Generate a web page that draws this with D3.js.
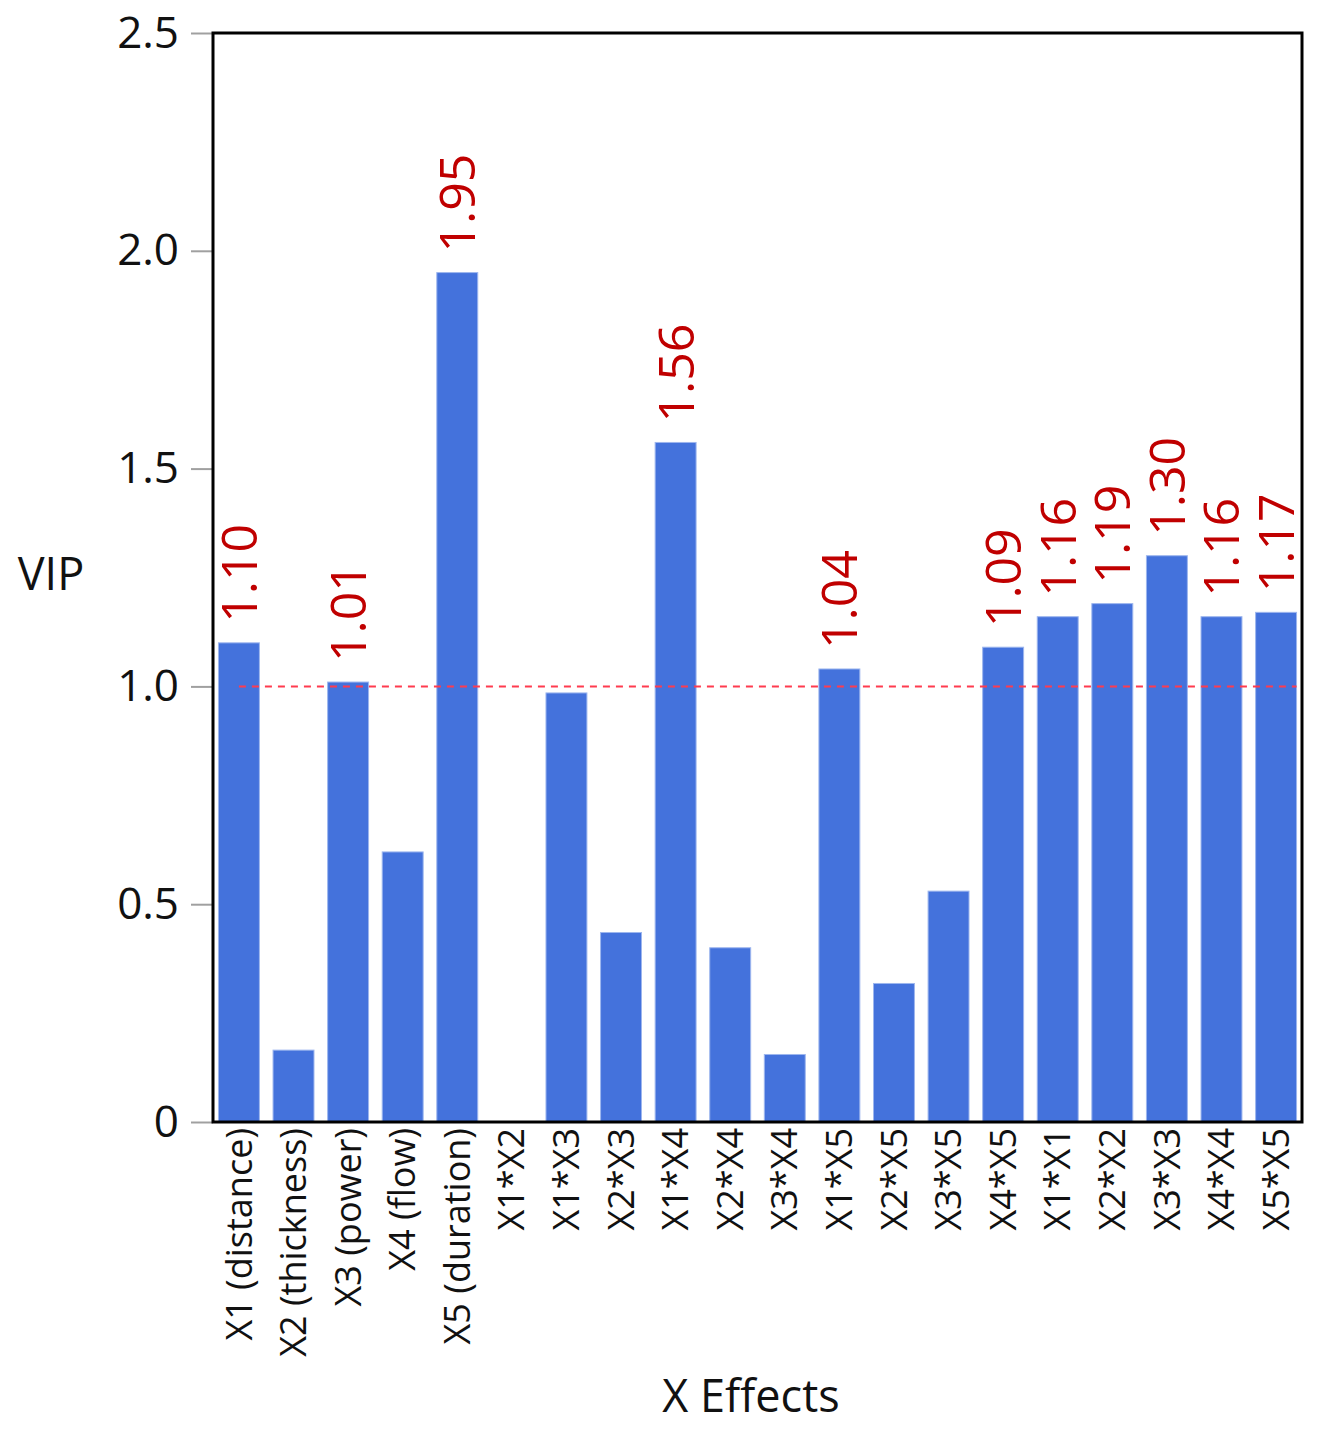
<!DOCTYPE html>
<html>
  <head>
    <title>VIP</title>
    <script src="https://cdn.jsdelivr.net/npm/d3@7/dist/d3.min.js"></script>
    <style>
      body { margin: 0; background: #fff; }
      text { font-family: "Open Sans", "Noto Sans", sans-serif; }
    </style>
  </head>
  <body>
    <svg width="1319" height="1429" id="mainsvg"></svg>
    <script>
      const categories = ['X1 (distance)', 'X2 (thickness)', 'X3 (power)', 'X4 (flow)', 'X5 (duration)',
        'X1*X2', 'X1*X3', 'X2*X3', 'X1*X4', 'X2*X4', 'X3*X4', 'X1*X5', 'X2*X5', 'X3*X5', 'X4*X5',
        'X1*X1', 'X2*X2', 'X3*X3', 'X4*X4', 'X5*X5'];
      const vip = [1.10, 0.165, 1.01, 0.62, 1.95,
        0, 0.985, 0.435, 1.56, 0.40, 0.155, 1.04, 0.318, 0.53, 1.09,
        1.16, 1.19, 1.30, 1.16, 1.17];
      const yTicks = [0, 0.5, 1.0, 1.5, 2.0, 2.5];
      const threshold = 1.0;

      const svg = d3.select('#mainsvg');
      const margin = {top: 33, right: 17, bottom: 307, left: 213};
      const innerWidth = +svg.attr('width') - margin.left - margin.right;
      const innerHeight = +svg.attr('height') - margin.top - margin.bottom;
      const data = categories.map((c, i) => ({name: c, value: vip[i]}));

      const g = svg.append('g')
        .attr('transform', `translate(${margin.left}, ${margin.top})`);

      const xScale = d3.scaleBand()
        .domain(categories)
        .range([0, innerWidth])
        .paddingInner(0.25)
        .paddingOuter(0.1);

      const yScale = d3.scaleLinear()
        .domain([0, 2.5])
        .range([innerHeight, 0]);

      // y axis
      const yAxis = d3.axisLeft(yScale)
        .tickValues(yTicks)
        .tickFormat(d => d === 0 ? '0' : d.toFixed(1))
        .tickSize(22)
        .tickPadding(12);
      const yAxisGroup = g.append('g').call(yAxis);
      yAxisGroup.selectAll('.domain').remove();
      yAxisGroup.selectAll('.tick line').attr('stroke', '#a0a0a0').attr('stroke-width', 2);
      yAxisGroup.selectAll('.tick text')
        .attr('font-size', 44)
        .attr('fill', '#111');

      // x axis
      const xAxis = d3.axisBottom(xScale).tickSize(0).tickPadding(0);
      const xAxisGroup = g.append('g')
        .attr('transform', `translate(0, ${innerHeight})`)
        .call(xAxis);
      xAxisGroup.selectAll('.domain').remove();
      xAxisGroup.selectAll('.tick text')
        .attr('font-size', 36)
        .attr('fill', '#111')
        .attr('transform', 'rotate(-90)')
        .attr('text-anchor', 'end')
        .attr('x', -6)
        .attr('y', 0)
        .attr('dy', '0.35em');

      // bars
      g.selectAll('.bar')
        .data(data.filter(d => d.value > 0))
        .join('rect')
        .attr('class', 'bar')
        .attr('x', d => xScale(d.name))
        .attr('y', d => yScale(d.value))
        .attr('width', xScale.bandwidth())
        .attr('height', d => innerHeight - yScale(d.value))
        .attr('fill', '#4472dc')
        .attr('stroke', '#9db6ee')
        .attr('stroke-width', 1);

      // threshold line
      const x0 = xScale(categories[0]) + xScale.bandwidth() / 2;
      const x1 = xScale(categories[categories.length - 1]) + xScale.bandwidth();
      g.append('line')
        .attr('x1', x0)
        .attr('x2', x1)
        .attr('y1', yScale(threshold))
        .attr('y2', yScale(threshold))
        .attr('stroke', '#ff3b4e')
        .attr('stroke-width', 2)
        .attr('stroke-dasharray', '7,6');

      // value labels for VIP > 1
      g.selectAll('.vlabel')
        .data(data.filter(d => d.value > threshold))
        .join('text')
        .attr('class', 'vlabel')
        .attr('transform', d => `translate(${xScale(d.name) + xScale.bandwidth() / 2}, ${yScale(d.value) - 20}) rotate(-90)`)
        .attr('dy', '0.36em')
        .attr('font-size', 50)
        .attr('fill', '#c00000')
        .text(d => d.value.toFixed(2));

      // frame
      g.append('rect')
        .attr('width', innerWidth)
        .attr('height', innerHeight)
        .attr('fill', 'none')
        .attr('stroke', '#000')
        .attr('stroke-width', 3);

      // axis titles
      svg.append('text')
        .attr('x', 51)
        .attr('y', 590)
        .attr('text-anchor', 'middle')
        .attr('font-size', 45)
        .attr('fill', '#111')
        .text('VIP');
      svg.append('text')
        .attr('x', 751)
        .attr('y', 1412)
        .attr('text-anchor', 'middle')
        .attr('font-size', 45)
        .attr('fill', '#111')
        .text('X Effects');
    </script>
  </body>
</html>
